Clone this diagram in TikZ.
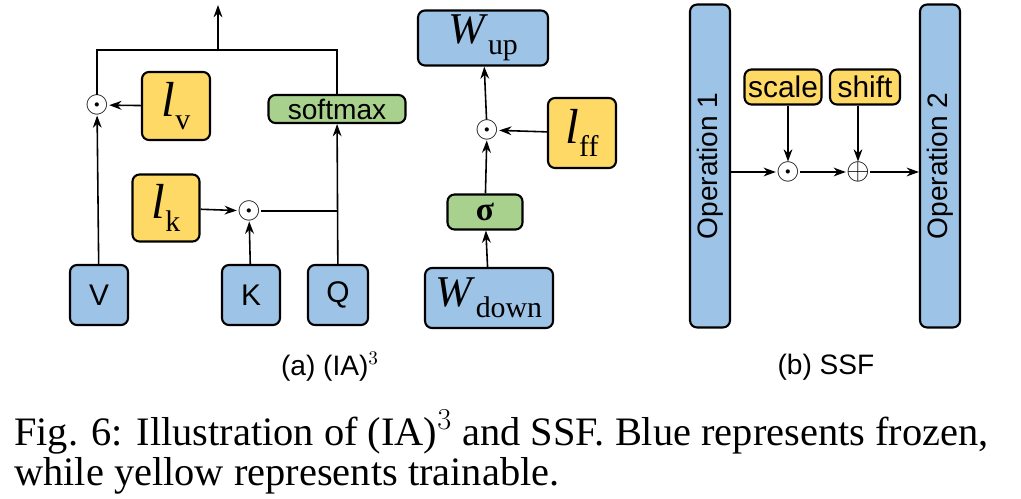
\documentclass[tikz,border=0pt]{standalone}
\usepackage{fontspec}
\setmainfont{Liberation Serif}
\setsansfont{Liberation Sans}
\usetikzlibrary{arrows.meta}
\definecolor{fblue}{HTML}{9DC3E6}
\definecolor{fyellow}{HTML}{FFD966}
\definecolor{fgreen}{HTML}{A9D18E}
\newcommand{\ivar}[2]{\textit{#1}\raisebox{-0.55ex}{\fontsize{17}{17}\selectfont #2}}
\begin{document}
\begin{tikzpicture}[x=0.02cm,y=-0.02cm,
  box/.style={draw,line width=1.2pt,rounded corners=4pt,font=\sffamily\fontsize{17}{17}\selectfont,inner sep=0pt},
  frozen/.style={box,fill=fblue},
  train/.style={box,fill=fyellow,font=\fontsize{28}{28}\selectfont},
  act/.style={box,fill=fgreen},
  op/.style={inner sep=0pt,font=\fontsize{18}{18}\selectfont},
  arr/.style={-{Stealth[length=7pt,width=5pt]},line width=0.9pt},
  ln/.style={line width=0.9pt}]
\useasboundingbox (0,0) rectangle (1021,499);
% (a) (IA)^3
\node[frozen,minimum width=1.16cm,minimum height=1.2cm] (V) at (99,295) {V};
\node[frozen,minimum width=1.16cm,minimum height=1.2cm] (K) at (251,295) {K};
\node[frozen,minimum width=1.2cm,minimum height=1.2cm] (Q) at (338,295) {Q};
\node[train,minimum width=1.34cm,minimum height=1.34cm] (lk) at (166,208) {\ivar{l}{k}};
\node[train,minimum width=1.36cm,minimum height=1.36cm] (lv) at (176,106) {\ivar{l}{v}};
\node[act,minimum width=2.74cm,minimum height=0.56cm,font=\sffamily\fontsize{16}{16}\selectfont] (sm) at (337,109) {softmax};
\node[op] (o1) at (249,211) {$\odot$};
\node[op] (o2) at (97,105) {$\odot$};
\coordinate (jq) at (338,211);
\coordinate (jv) at (97,50);
\coordinate (js) at (337,50);
\coordinate (jm) at (218,50);
\coordinate (out) at (218,5);
\draw[arr] (K) -- (o1);
\draw[arr] (lk) -- (o1);
\draw[ln] (o1) -- (jq);
\draw[arr] (Q) -- (sm);
\draw[arr] (V) -- (o2);
\draw[arr] (lv) -- (o2);
\draw[ln] (o2) -- (jv) -- (js) -- (sm);
\draw[arr] (jm) -- (out);
\node[font=\sffamily\fontsize{16}{16}\selectfont] (cap1) at (330,367) {(a) (IA)$^3$};
% FFN
\node[frozen,minimum width=2.6cm,minimum height=1.1cm,font=\fontsize{25}{25}\selectfont] (wu) at (483,38) {\ivar{W}{up}};
\node[frozen,minimum width=2.56cm,minimum height=1.2cm,font=\fontsize{25}{25}\selectfont] (wd) at (489,298) {\ivar{W}{down}};
\node[act,minimum width=1.5cm,minimum height=0.7cm,font=\fontsize{19}{19}\selectfont] (sg) at (485,212) {\textbf{σ}};
\node[train,minimum width=1.36cm,minimum height=1.4cm] (lf) at (582,133) {\ivar{l}{ff}};
\node[op] (o3) at (487,130) {$\odot$};
\draw[arr] (wd) -- (sg);
\draw[arr] (sg) -- (o3);
\draw[arr] (o3) -- (wu);
\draw[arr] (lf) -- (o3);
% (b) SSF
\node[frozen,minimum width=0.8cm,minimum height=6.46cm] (op1) at (710,166) {};
\node[rotate=90,font=\sffamily\fontsize{16}{16}\selectfont] (t1) at (op1) {Operation 1};
\node[frozen,minimum width=0.8cm,minimum height=6.46cm] (op2) at (940,166) {};
\node[rotate=90,font=\sffamily\fontsize{16}{16}\selectfont] (t2) at (op2) {Operation 2};
\node[box,fill=fyellow,minimum width=1.54cm,minimum height=0.7cm] (sc) at (783,87) {scale};
\node[box,fill=fyellow,minimum width=1.4cm,minimum height=0.7cm] (sh) at (865,87) {shift};
\node[op] (o4) at (788,172) {$\odot$};
\node[op] (p1) at (858,172) {$\oplus$};
\draw[arr] (op1.east |- o4) -- (o4);
\draw[arr] (o4) -- (p1);
\draw[arr] (p1) -- (op2.west |- p1);
\draw[arr] (sc.south -| o4) -- (o4);
\draw[arr] (sh.south -| p1) -- (p1);
\node[font=\sffamily\fontsize{16}{16}\selectfont] (cap2) at (826,367) {(b) SSF};
% caption
\node[anchor=west,font=\fontsize{23}{23}\selectfont] (c1) at (8,432) {Fig. 6: Illustration of (IA)$^3$ and SSF. Blue represents frozen,};
\node[anchor=west,font=\fontsize{23}{23}\selectfont] (c2) at (8,476) {while yellow represents trainable.};
\end{tikzpicture}
\end{document}
